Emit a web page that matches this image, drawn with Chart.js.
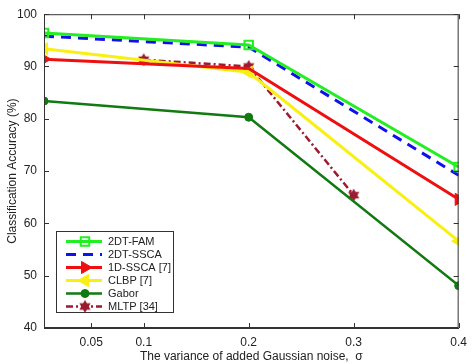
<!DOCTYPE html>
<html>
<head>
<meta charset="utf-8">
<script src="https://cdn.jsdelivr.net/npm/chart.js@4"></script>
<style>
  html, body { margin: 0; padding: 0; background: #fff; }
  #wrap { width: 474px; height: 364px; }
</style>
</head>
<body>
<div id="wrap"><canvas id="accChart" width="474" height="364"></canvas></div>
<script>
// Data
const xTicks = [0.05, 0.1, 0.2, 0.3, 0.4];
const yTicks = [40, 50, 60, 70, 80, 90, 100];

const noiseMain = [0.005, 0.2, 0.4];
const famAcc = [96.4, 94.1, 70.8];
const sscaAcc = [95.8, 93.7, 69.2];
const ssca1dAcc = [91.4, 89.6, 64.6];
const clbpAcc = [93.4, 88.9, 56.6];
const gaborAcc = [83.4, 80.3, 48.1];

const noiseMltp = [0.1, 0.2, 0.3];
const mltpAcc = [91.3, 90.0, 65.4];

const labels = ['2DT-FAM', '2DT-SSCA', '1D-SSCA [7]', 'CLBP [7]', 'Gabor', 'MLTP [34]'];

function pts(xs, ys) {
  return xs.map((x, i) => ({ x: x, y: ys[i] }));
}

// hexagram marker for MLTP
function makeStar(size, color) {
  const c = document.createElement('canvas');
  c.width = size; c.height = size;
  const g = c.getContext('2d');
  const r = size / 2 - 0.5, cx = size / 2, cy = size / 2;
  g.fillStyle = color;
  for (let k = 0; k < 2; k++) {
    g.beginPath();
    for (let i = 0; i < 3; i++) {
      const a = -Math.PI / 2 + k * Math.PI / 3 + i * 2 * Math.PI / 3;
      const px = cx + r * Math.cos(a), py = cy + r * Math.sin(a);
      if (i === 0) g.moveTo(px, py); else g.lineTo(px, py);
    }
    g.closePath();
    g.fill();
  }
  return c;
}
const starImg = makeStar(14, '#9b1b30');

const datasets = [
  {
    label: labels[0], data: pts(noiseMain, famAcc),
    borderColor: '#22ee22', borderWidth: 3,
    pointStyle: 'rect', pointRadius: 6, pointBorderWidth: 2,
    pointBackgroundColor: 'rgba(0,0,0,0)', pointBorderColor: '#22ee22'
  },
  {
    label: labels[1], data: pts(noiseMain, sscaAcc),
    borderColor: '#1010ee', borderWidth: 3, borderDash: [10, 7],
    pointRadius: 0
  },
  {
    label: labels[2], data: pts(noiseMain, ssca1dAcc),
    borderColor: '#ee1010', borderWidth: 3,
    pointStyle: 'triangle', rotation: 90, pointRadius: [7, 0, 7], pointBorderWidth: 1,
    pointBackgroundColor: '#ee1010', pointBorderColor: '#ee1010'
  },
  {
    label: labels[3], data: pts(noiseMain, clbpAcc),
    borderColor: '#f8f010', borderWidth: 3,
    pointStyle: 'triangle', rotation: -90, pointRadius: 7, pointBorderWidth: 1,
    pointBackgroundColor: '#f8f010', pointBorderColor: '#f8f010'
  },
  {
    label: labels[4], data: pts(noiseMain, gaborAcc),
    borderColor: '#117a11', borderWidth: 2.5,
    pointStyle: 'circle', pointRadius: 4, pointBorderWidth: 1,
    pointBackgroundColor: '#117a11', pointBorderColor: '#117a11'
  },
  {
    label: labels[5], data: pts(noiseMltp, mltpAcc),
    borderColor: '#9b1b30', borderWidth: 2.5, borderDash: [7, 3, 2, 3],
    pointStyle: starImg, pointRadius: 7,
    pointBackgroundColor: '#9b1b30', pointBorderColor: '#9b1b30'
  }
];

const axisColor = '#333';

// frame + inward ticks on all four sides
const framePlugin = {
  id: 'frame',
  afterDraw(chart) {
    const { ctx, chartArea: a, scales } = chart;
    ctx.save();
    ctx.strokeStyle = axisColor;
    ctx.lineWidth = 1;
    ctx.strokeRect(a.left + 0.5, a.top + 0.5, a.right - a.left - 1, a.bottom - a.top - 1);
    const tl = 5;
    ctx.beginPath();
    xTicks.forEach(v => {
      const px = Math.round(scales.x.getPixelForValue(v)) + 0.5;
      ctx.moveTo(px, a.bottom); ctx.lineTo(px, a.bottom - tl);
      ctx.moveTo(px, a.top); ctx.lineTo(px, a.top + tl);
    });
    yTicks.forEach(v => {
      const py = Math.round(scales.y.getPixelForValue(v)) + 0.5;
      ctx.moveTo(a.left, py); ctx.lineTo(a.left + tl, py);
      ctx.moveTo(a.right, py); ctx.lineTo(a.right - tl, py);
    });
    ctx.stroke();
    ctx.restore();
  }
};

// legend box in the lower left of the plot
const boxLegend = {
  id: 'boxLegend',
  afterDraw(chart) {
    const ctx = chart.ctx;
    const bx = 56, by = 231, bw = 117, bh = 81;
    ctx.save();
    ctx.fillStyle = '#fff';
    ctx.fillRect(bx, by, bw, bh);
    ctx.strokeStyle = axisColor;
    ctx.lineWidth = 1;
    ctx.strokeRect(bx + 0.5, by + 0.5, bw, bh);
    ctx.font = '11px "Liberation Sans", Arial, sans-serif';
    ctx.textBaseline = 'middle';
    chart.data.datasets.forEach((ds, i) => {
      const y = by + 10.5 + i * 13;
      ctx.strokeStyle = ds.borderColor;
      ctx.lineWidth = ds.borderWidth;
      ctx.setLineDash(ds.borderDash || []);
      ctx.beginPath();
      ctx.moveTo(66, y); ctx.lineTo(102, y);
      ctx.stroke();
      ctx.setLineDash([]);
      const r = Array.isArray(ds.pointRadius) ? ds.pointRadius[0] : ds.pointRadius;
      if (r > 0) {
        ctx.fillStyle = ds.pointBackgroundColor;
        ctx.strokeStyle = ds.pointBorderColor;
        ctx.lineWidth = ds.pointBorderWidth || 1;
        Chart.helpers.drawPoint(ctx, {
          pointStyle: ds.pointStyle, radius: r, rotation: ds.rotation || 0,
          borderWidth: ds.pointBorderWidth || 1
        }, 85, y);
      }
      ctx.fillStyle = '#222';
      ctx.fillText(ds.label, 108, y + 0.5);
    });
    ctx.restore();
  }
};

const ctx = document.getElementById('accChart').getContext('2d');
const accChart = new Chart(ctx, {
  type: 'line',
  data: { datasets: datasets },
  options: {
    responsive: false,
    animation: false,
    layout: { padding: { top: 5, right: 9, left: 0, bottom: 0 } },
    plugins: {
      legend: { display: false },
      tooltip: { enabled: false }
    },
    scales: {
      x: {
        type: 'linear',
        min: 0.005, max: 0.4,
        afterBuildTicks(scale) { scale.ticks = xTicks.map(v => ({ value: v })); },
        afterFit(scale) { scale.height = 36; },
        grid: { drawOnChartArea: false, drawTicks: false },
        border: { color: axisColor },
        ticks: {
          padding: 7, color: '#222',
          font: { family: '"Liberation Sans", Arial, sans-serif', size: 12 },
          callback: v => String(v)
        },
        title: {
          display: true, text: 'The variance of added Gaussian noise,  σ',
          color: '#222', padding: { top: 0, bottom: 0 },
          font: { family: '"Liberation Sans", Arial, sans-serif', size: 12 }
        }
      },
      y: {
        min: 40, max: 100,
        afterBuildTicks(scale) { scale.ticks = yTicks.map(v => ({ value: v })); },
        afterFit(scale) { scale.width = 44; },
        grid: { drawOnChartArea: false, drawTicks: false },
        border: { color: axisColor },
        ticks: {
          padding: 7, color: '#222',
          font: { family: '"Liberation Sans", Arial, sans-serif', size: 12 }
        },
        title: {
          display: true, text: 'Classification Accuracy (%)',
          color: '#222', padding: { top: 5, bottom: 0 },
          font: { family: '"Liberation Sans", Arial, sans-serif', size: 12 }
        }
      }
    }
  },
  plugins: [framePlugin, boxLegend]
});
</script>
</body>
</html>
